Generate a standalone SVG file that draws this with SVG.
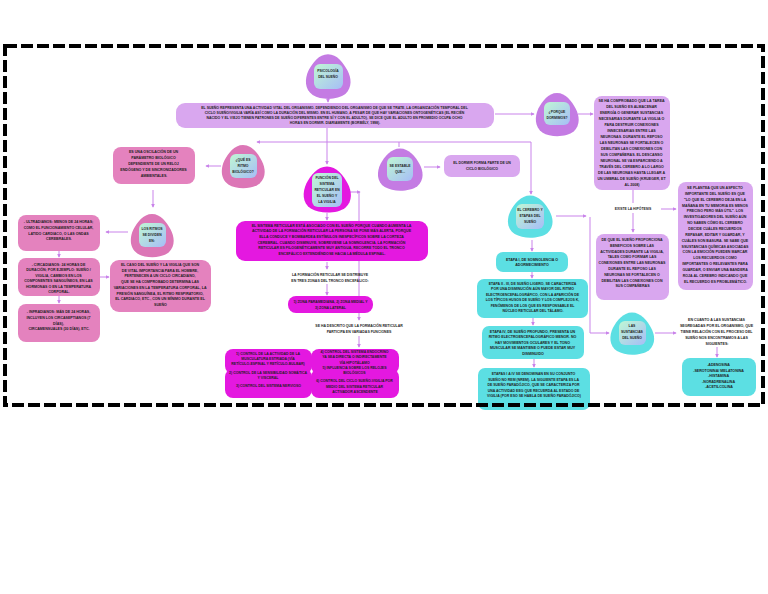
<svg xmlns="http://www.w3.org/2000/svg" width="768" height="594" viewBox="0 0 768 594">
<style>
.t{font-family:"Liberation Sans",Arial,sans-serif;font-weight:bold;fill:#1e1e1e;text-anchor:middle}
.f34{font-size:3.4px}.f35{font-size:3.5px}.f36{font-size:3.6px}
.c{fill:none;stroke:#c983ea;stroke-width:1}
.pb{fill:#c47be3}.pk{fill:#dc76b6}.mg{fill:#e418e0}.tl{fill:#5cdfe3}
.bx-p{fill:#d9a7ef}.bx-k{fill:#e482be}.bx-m{fill:#e418e0}.bx-t{fill:#5cdfe3}
</style>
<defs>
<linearGradient id="g" x1="0" y1="0" x2="1" y2="1">
<stop offset="0" stop-color="#bff7d4"/><stop offset="1" stop-color="#a6bdf6"/>
</linearGradient>
<marker id="a" viewBox="0 0 6 6" refX="5" refY="3" markerWidth="4" markerHeight="4" orient="auto"><path d="M0,0 L6,3 L0,6 Z" fill="#c983ea"/></marker>
<path id="blob" d="M0,-24 C9,-24 15,-15 19,-7 C23,1 24,11 17,18 C10,24 -6,25 -15,19 C-23,13 -23,2 -19,-7 C-15,-15 -9,-24 0,-24 Z"/>
</defs>
<rect width="768" height="594" fill="#ffffff"/>

<g id="connectors">
<path class="c" d="M328,99 V102" marker-end="url(#a)"/>
<path class="c" d="M327,128 V142"/>
<path class="c" d="M327,142 H257" marker-end="url(#a)"/>
<path class="c" d="M327,142 H531 V194" marker-end="url(#a)"/>
<path class="c" d="M327,142 V164" marker-end="url(#a)"/>
<path class="c" d="M399,142 V147"/>
<path class="c" d="M495,114 H534" marker-end="url(#a)"/>
<path class="c" d="M578,114 H593" marker-end="url(#a)"/>
<path class="c" d="M633,190 V203"/>
<path class="c" d="M661,209 H676" marker-end="url(#a)"/>
<path class="c" d="M633,213 V232" marker-end="url(#a)"/>
<path class="c" d="M221,166 H206" marker-end="url(#a)"/>
<path class="c" d="M153,190 V207" marker-end="url(#a)"/>
<path class="c" d="M128,232 H106" marker-end="url(#a)"/>
<path class="c" d="M59,251 V257" marker-end="url(#a)"/>
<path class="c" d="M59,296 V303" marker-end="url(#a)"/>
<path class="c" d="M100,277 H109" marker-end="url(#a)"/>
<path class="c" d="M327,213 V220" marker-end="url(#a)"/>
<path class="c" d="M350,192 H360" marker-end="url(#a)"/>
<path class="c" d="M359,192 V320" marker-end="url(#a)"/>
<path class="c" d="M327,262 V269" marker-end="url(#a)"/>
<path class="c" d="M327,284 V295" marker-end="url(#a)"/>
<path class="c" d="M359,336 V347" marker-end="url(#a)"/>
<path class="c" d="M556,216 H586" marker-end="url(#a)"/>
<path class="c" d="M590,217 V333 H609" marker-end="url(#a)"/>
<path class="c" d="M532,240 V251" marker-end="url(#a)"/>
<path class="c" d="M532,272 V278" marker-end="url(#a)"/>
<path class="c" d="M533,318 V325" marker-end="url(#a)"/>
<path class="c" d="M534,359 V367" marker-end="url(#a)"/>
<path class="c" d="M655,333 H676" marker-end="url(#a)"/>
<path class="c" d="M717,347 V357" marker-end="url(#a)"/>
<path class="c" d="M424,167 H440" marker-end="url(#a)"/>
</g>

<g id="psicologia">
<use href="#blob" class="pb" transform="translate(328,77) scale(1.02,0.95)"/>
<rect x="314" y="64" width="29" height="25" rx="6" fill="url(#g)"/>
<text class="t f34" x="328" y="72"><tspan x="328">PSICOLOGÍA</tspan><tspan x="328" dy="6">DEL SUEÑO</tspan></text>
</g>

<g id="intro">
<rect x="176" y="103" width="318" height="25" rx="9" class="bx-p"/>
<text class="t f35" x="335" y="109">
<tspan x="335">EL SUEÑO REPRESENTA UNA ACTIVIDAD VITAL DEL ORGANISMO. DEPENDIENDO DEL ORGANISMO DE QUE SE TRATE, LA ORGANIZACIÓN TEMPORAL DEL</tspan>
<tspan x="335" dy="5">CICLO SUEÑO/VIGILIA VARÍA ASÍ COMO LA DURACIÓN DEL MISMO. EN EL HUMANO, A PESAR DE QUE HAY VARIACIONES ONTOGENÉTICAS (EL RECIÉN</tspan>
<tspan x="335" dy="5">NACIDO Y EL VIEJO TIENEN PATRONES DE SUEÑO DIFERENTES ENTRE SÍ Y CON EL ADULTO), SE DICE QUE EL ADULTO EN PROMEDIO OCUPA OCHO</tspan>
<tspan x="335" dy="5">HORAS EN DORMIR. DIARIAMENTE (BORBÉLY, 1998).</tspan>
</text>
</g>

<g id="porque">
<use href="#blob" class="pb" transform="translate(557,115) scale(0.98,0.92)"/>
<rect x="544" y="102" width="26" height="23" rx="6" fill="url(#g)"/>
<text class="t f34" x="557" y="113"><tspan x="557">¿PORQUE</tspan><tspan x="557" dy="6">DORMIMOS?</tspan></text>
</g>

<g id="tarea">
<rect x="594" y="96" width="76" height="94" rx="8" class="bx-p"/>
<text class="t f36" x="632" y="102">
<tspan x="632">SE HA COMPROBADO QUE LA TAREA</tspan>
<tspan x="632" dy="6">DEL SUEÑO ES ALMACENAR</tspan>
<tspan x="632" dy="6">ENERGÍA O GENERAR SUSTANCIAS</tspan>
<tspan x="632" dy="6">NECESARIAS DURANTE LA VIGILIA O</tspan>
<tspan x="632" dy="6">PARA DESTRUIR CONEXIONES</tspan>
<tspan x="632" dy="6">INNECESARIAS ENTRE LAS</tspan>
<tspan x="632" dy="6">NEURONAS. DURANTE EL REPOSO</tspan>
<tspan x="632" dy="6">LAS NEURONAS SE FORTALECEN O</tspan>
<tspan x="632" dy="6">DEBILITAN LAS CONEXIONES CON</tspan>
<tspan x="632" dy="6">SUS COMPAÑERAS. EL DESCANSO</tspan>
<tspan x="632" dy="6">NEURONAL SE VA ESPARCIENDO A</tspan>
<tspan x="632" dy="6">TRAVÉS DEL CEREBRO A LO LARGO</tspan>
<tspan x="632" dy="6">DE LAS NEURONAS HASTA LLEGAR A</tspan>
<tspan x="632" dy="6">UN UMBRAL DE SUEÑO (KRUEGER, ET</tspan>
<tspan x="632" dy="6">AL 2008)</tspan>
</text>
</g>

<g id="hipotesis">
<text class="t f34" x="633" y="210">EXISTE LA HIPÓTESIS</text>
</g>

<g id="plantea">
<rect x="678" y="182" width="75" height="108" rx="8" class="bx-p"/>
<text class="t f36" x="715.5" y="189">
<tspan x="715.5">SE PLANTEA QUE UN ASPECTO</tspan>
<tspan x="715.5" dy="5.85">IMPORTANTE DEL SUEÑO ES QUE</tspan>
<tspan x="715.5" dy="5.85">"LO QUE EL CEREBRO DEJA EN LA</tspan>
<tspan x="715.5" dy="5.85">MAÑANA EN TU MEMORIA ES MENOS</tspan>
<tspan x="715.5" dy="5.85">PRECISO PERO MÁS ÚTIL". LOS</tspan>
<tspan x="715.5" dy="5.85">INVESTIGADORES DEL SUEÑO AÚN</tspan>
<tspan x="715.5" dy="5.85">NO SABEN CÓMO EL CEREBRO</tspan>
<tspan x="715.5" dy="5.85">DECIDE CUÁLES RECUERDOS</tspan>
<tspan x="715.5" dy="5.85">REPASAR, EDITAR Y GUARDAR, Y</tspan>
<tspan x="715.5" dy="5.85">CUÁLES SON BASURA. SE SABE QUE</tspan>
<tspan x="715.5" dy="5.85">SSUSTANCIAS QUÍMICAS ASOCIADAS</tspan>
<tspan x="715.5" dy="5.85">CON LA EMOCIÓN PUEDEN MARCAR</tspan>
<tspan x="715.5" dy="5.85">LOS RECUERDOS COMO</tspan>
<tspan x="715.5" dy="5.85">IMPORTANTES O RELEVANTES PARA</tspan>
<tspan x="715.5" dy="5.85">GUARDAR, O ENVIAR UNA BANDERA</tspan>
<tspan x="715.5" dy="5.85">ROJA AL CEREBRO INDICANDO QUE</tspan>
<tspan x="715.5" dy="5.85">EL RECUERDO ES PROBLEMÁTICO.</tspan>
</text>
</g>

<g id="dequesueno">
<rect x="596" y="234" width="73" height="66" rx="8" class="bx-p"/>
<text class="t f36" x="632.5" y="241">
<tspan x="632.5">DE QUE EL SUEÑO PROPORCIONA</tspan>
<tspan x="632.5" dy="5.8">BENEFICIOS SOBRE LAS</tspan>
<tspan x="632.5" dy="5.8">ACTIVIDADES DURANTE LA VIGILIA,</tspan>
<tspan x="632.5" dy="5.8">TALES COMO FORMAR LAS</tspan>
<tspan x="632.5" dy="5.8">CONEXIONES ENTRE LAS NEURONAS</tspan>
<tspan x="632.5" dy="5.8">DURANTE EL REPOSO LAS</tspan>
<tspan x="632.5" dy="5.8">NEURONAS SE FORTALECEN O</tspan>
<tspan x="632.5" dy="5.8">DEBILITAN LAS CONEXIONES CON</tspan>
<tspan x="632.5" dy="5.8">SUS COMPAÑERAS</tspan>
</text>
</g>

<g id="sustancias">
<use href="#blob" class="tl" transform="translate(632,334) scale(1,0.9)"/>
<rect x="619" y="321" width="27" height="24" rx="6" fill="url(#g)"/>
<text class="t f34" x="632" y="327"><tspan x="632">LAS</tspan><tspan x="632" dy="6">SUSTANCIAS</tspan><tspan x="632" dy="6">DEL SUEÑO</tspan></text>
</g>

<g id="encuanto">
<text class="t f36" x="717" y="321">
<tspan x="717">EN CUANTO A LAS SUSTANCIAS</tspan>
<tspan x="717" dy="6">SEGREGADAS POR EL ORGANISMO, QUE</tspan>
<tspan x="717" dy="6">TIENE RELACIÓN CON EL PROCESO DEL</tspan>
<tspan x="717" dy="6">SUEÑO NOS ENCONTRAMOS A LAS</tspan>
<tspan x="717" dy="6">SIGUIENTES:</tspan>
</text>
</g>

<g id="lista">
<rect x="682" y="358" width="74" height="38" rx="8" class="bx-t"/>
<text class="t f36" x="719" y="366">
<tspan x="719">-ADENOSINA</tspan>
<tspan x="719" dy="5.5">-SEROTONINA/ MELATONINA</tspan>
<tspan x="719" dy="5.5">-HISTAMINA</tspan>
<tspan x="719" dy="5.5">-NORADRENALINA</tspan>
<tspan x="719" dy="5.5">-ACETILCOLINA</tspan>
</text>
</g>

<g id="cerebro">
<use href="#blob" class="tl" transform="translate(530,217) scale(1.02,0.9)"/>
<rect x="516" y="204" width="28" height="25" rx="6" fill="url(#g)"/>
<text class="t f34" x="530" y="211"><tspan x="530">EL CEREBRO Y</tspan><tspan x="530" dy="6">ETAPAS DEL</tspan><tspan x="530" dy="6">SUEÑO</tspan></text>
</g>

<g id="etapa1">
<rect x="496" y="252" width="72" height="20" rx="7" class="bx-t"/>
<text class="t f36" x="532" y="260.5"><tspan x="532">ETAPA I, DE SOMNOLENCIA O</tspan><tspan x="532" dy="5.5">ADORMECIMIENTO</tspan></text>
</g>

<g id="etapa2">
<rect x="477" y="279" width="111" height="39" rx="7" class="bx-t"/>
<text class="t f35" x="533" y="285">
<tspan x="533">ETAPA II - III, DE SUEÑO LIGERO, SE CARACTERIZA</tspan>
<tspan x="533" dy="5.4">POR UNA DISMINUCIÓN AÚN MAYOR DEL RITMO</tspan>
<tspan x="533" dy="5.4">ELECTROENCEFALOGRÁFICO, CON LA APARICIÓN DE</tspan>
<tspan x="533" dy="5.4">LOS TÍPICOS HUSOS DE SUEÑO Y LOS COMPLEJOS K,</tspan>
<tspan x="533" dy="5.4">FENÓMENOS DE LOS QUE ES RESPONSABLE EL</tspan>
<tspan x="533" dy="5.4">NÚCLEO RETICULAR DEL TÁLAMO.</tspan>
</text>
</g>

<g id="etapa4">
<rect x="482" y="326" width="102" height="33" rx="7" class="bx-t"/>
<text class="t f36" x="533" y="332.5">
<tspan x="533">ETAPA IV, DE SUEÑO PROFUNDO, PRESENTA UN</tspan>
<tspan x="533" dy="5.6">RITMO ELECTROENCEFALOGRÁFICO MENOR. NO</tspan>
<tspan x="533" dy="5.6">HAY MOVIMIENTOS OCULARES Y EL TONO</tspan>
<tspan x="533" dy="5.6">MUSCULAR SE MANTIENE O PUEDE ESTAR MUY</tspan>
<tspan x="533" dy="5.6">DISMINUIDO</tspan>
</text>
</g>

<g id="etapas-rem">
<rect x="478" y="368" width="112" height="42" rx="7" class="bx-t"/>
<text class="t f35" x="534" y="375">
<tspan x="534">ETAPAS I A IV SE DENOMINAN EN SU CONJUNTO</tspan>
<tspan x="534" dy="5.5">SUEÑO NO REM (NREM). LA SIGUIENTE ETAPA ES LA</tspan>
<tspan x="534" dy="5.5">DE SUEÑO PARADÓJICO, QUE SE CARACTERIZA POR</tspan>
<tspan x="534" dy="5.5">UNA ACTIVIDAD EEG QUE RECUERDA AL ESTADO DE</tspan>
<tspan x="534" dy="5.5">VIGILIA (POR ESO SE HABLA DE SUEÑO PARADÓJICO)</tspan>
</text>
</g>

<g id="seestable">
<use href="#blob" class="pb" transform="translate(400,170) scale(1.02,0.9)"/>
<rect x="387" y="157" width="26" height="24" rx="6" fill="url(#g)"/>
<text class="t f34" x="400" y="167"><tspan x="400">SE ESTABLE</tspan><tspan x="400" dy="6">QUE...</tspan></text>
</g>

<g id="dormir">
<rect x="444" y="155" width="76" height="22" rx="7" class="bx-p"/>
<text class="t f35" x="482" y="164"><tspan x="482">EL DORMIR FORMA PARTE DE UN</tspan><tspan x="482" dy="6">CICLO BIOLÓGICO</tspan></text>
</g>

<g id="funcion">
<use href="#blob" class="mg" transform="translate(327,190) scale(1.08,0.98)"/>
<rect x="312" y="173" width="30" height="34" rx="6" fill="url(#g)"/>
<text class="t f34" x="327" y="179">
<tspan x="327">FUNCIÓN DEL</tspan><tspan x="327" dy="6">SISTEMA</tspan><tspan x="327" dy="6">RETICULAR EN</tspan><tspan x="327" dy="6">EL SUEÑO Y</tspan><tspan x="327" dy="6">LA VIGILIA</tspan>
</text>
</g>

<g id="reticular">
<rect x="236" y="221" width="192" height="40" rx="9" class="bx-m"/>
<text class="t f36" x="332" y="226.5">
<tspan x="332">EL SISTEMA RETICULAR ESTÁ ASOCIADO CON EL SUEÑO PORQUE CUANDO AUMENTA LA</tspan>
<tspan x="332" dy="5.7">ACTIVIDAD DE LA FORMACIÓN RETICULAR LA PERSONA SE PONE MÁS ALERTA, PORQUE</tspan>
<tspan x="332" dy="5.7">ELLA CONDUCE Y BOMBARDEA ESTÍMULOS INESPECÍFICOS SOBRE LA CORTEZA</tspan>
<tspan x="332" dy="5.7">CEREBRAL. CUANDO DISMINUYE, SOBREVIENE LA SOMNOLENCIA. LA FORMACIÓN</tspan>
<tspan x="332" dy="5.7">RETICULAR ES FILOGENÉTICAMENTE MUY ANTIGUA, RECORRE TODO EL TRONCO</tspan>
<tspan x="332" dy="5.7">ENCEFÁLICO EXTENDIÉNDOSE HACIA LA MÉDULA ESPINAL.</tspan>
</text>
</g>

<g id="distribuye">
<text class="t f35" x="330" y="276"><tspan x="330">LA FORMACIÓN RETICULAR SE DISTRIBUYE</tspan><tspan x="330" dy="6">EN TRES ZONAS DEL TRONCO ENCEFÁLICO:</tspan></text>
</g>

<g id="zonas">
<rect x="288" y="296" width="85" height="17" rx="8" class="bx-m"/>
<text class="t f35" x="330.5" y="303"><tspan x="330.5">1) ZONA PARAMEDIANA, 2) ZONA MEDIAL Y</tspan><tspan x="330.5" dy="6">3) ZONA LATERAL</tspan></text>
</g>

<g id="descrito">
<text class="t f35" x="359" y="327"><tspan x="359">SE HA DESCRITO QUE LA FORMACIÓN RETICULAR</tspan><tspan x="359" dy="6">PARTICIPA EN VARIADAS FUNCIONES</tspan></text>
</g>

<g id="funciones-1">
<rect x="225" y="349" width="87" height="25" rx="8" class="bx-m"/>
<rect x="225" y="369" width="87" height="29" rx="8" class="bx-m"/>
<text class="t f35" x="268.5" y="355">
<tspan x="268.5">1) CONTROL DE LA ACTIVIDAD DE LA</tspan>
<tspan x="268.5" dy="5">MUSCULATURA ESTRIADA (VÍA</tspan>
<tspan x="268.5" dy="5">RETÍCULO-ESPINAL Y RETÍCULO-BULBAR)</tspan>
<tspan x="268.5" dy="9">2) CONTROL DE LA SENSIBILIDAD SOMÁTICA</tspan>
<tspan x="268.5" dy="5">Y VISCERAL</tspan>
<tspan x="268.5" dy="8">3) CONTROL DEL SISTEMA NERVIOSO</tspan>
</text>
</g>

<g id="funciones-2">
<rect x="311" y="349" width="88" height="25" rx="8" class="bx-m"/>
<rect x="311" y="369" width="88" height="29" rx="8" class="bx-m"/>
<text class="t f35" x="355" y="353">
<tspan x="355">4) CONTROL DEL SISTEMA ENDOCRINO</tspan>
<tspan x="355" dy="5.3">YA SEA DIRECTA O INDIRECTAMENTE</tspan>
<tspan x="355" dy="5.3">VÍA HIPOTÁLAMO</tspan>
<tspan x="355" dy="5.3">5) INFLUENCIA SOBRE LOS RELOJES</tspan>
<tspan x="355" dy="5.3">BIOLÓGICOS</tspan>
<tspan x="355" dy="8">6) CONTROL DEL CICLO SUEÑO-VIGILIA POR</tspan>
<tspan x="355" dy="5.3">MEDIO DEL SISTEMA RETICULAR</tspan>
<tspan x="355" dy="5.3">ACTIVADOR ASCENDENTE</tspan>
</text>
</g>

<g id="queesritmo">
<use href="#blob" class="pk" transform="translate(243,167) scale(0.98,0.92)"/>
<rect x="230" y="154" width="27" height="24" rx="6" fill="url(#g)"/>
<text class="t f34" x="243" y="161"><tspan x="243">¿QUÉ ES</tspan><tspan x="243" dy="6">RITMO</tspan><tspan x="243" dy="6">BIOLÓGICO?</tspan></text>
</g>

<g id="oscilacion">
<rect x="113" y="147" width="82" height="37" rx="8" class="bx-k"/>
<text class="t f36" x="154" y="153">
<tspan x="154">ES UNA OSCILACIÓN DE UN</tspan>
<tspan x="154" dy="6">PARÁMETRO BIOLÓGICO</tspan>
<tspan x="154" dy="6">DEPENDIENTE DE UN RELOJ</tspan>
<tspan x="154" dy="6">ENDÓGENO Y DE SINCRONIZADORES</tspan>
<tspan x="154" dy="6">AMBIENTALES.</tspan>
</text>
</g>

<g id="ritmos">
<use href="#blob" class="pk" transform="translate(152,236) scale(0.98,0.92)"/>
<rect x="139" y="223" width="27" height="24" rx="6" fill="url(#g)"/>
<text class="t f34" x="152" y="230"><tspan x="152">LOS RITMOS</tspan><tspan x="152" dy="6">SE DIVIDEN</tspan><tspan x="152" dy="6">EN:</tspan></text>
</g>

<g id="ultradianos">
<rect x="18" y="215" width="82" height="36" rx="8" class="bx-k"/>
<text class="t f36" x="59" y="223">
<tspan x="59">- ULTRADIANOS: MENOS DE 24 HORAS;</tspan>
<tspan x="59" dy="5.8">COMO EL FUNCIONAMIENTO CELULAR,</tspan>
<tspan x="59" dy="5.8">LATIDO CARDIACO, O LAS ONDAS</tspan>
<tspan x="59" dy="5.8">CEREBRALES.</tspan>
</text>
</g>

<g id="circadianos">
<rect x="18" y="258" width="82" height="38" rx="8" class="bx-k"/>
<text class="t f36" x="59" y="266">
<tspan x="59">- CIRCADIANOS: 24 HORAS DE</tspan>
<tspan x="59" dy="5.4">DURACIÓN; POR EJEMPLO: SUEÑO /</tspan>
<tspan x="59" dy="5.4">VIGILIA, CAMBIOS EN LOS</tspan>
<tspan x="59" dy="5.4">COMPONENTES SANGUÍNEOS, EN LAS</tspan>
<tspan x="59" dy="5.4">HORMONAS O EN LA TEMPERATURA</tspan>
<tspan x="59" dy="5.4">CORPORAL.</tspan>
</text>
</g>

<g id="infradianos">
<rect x="18" y="304" width="82" height="38" rx="8" class="bx-k"/>
<text class="t f36" x="59" y="313">
<tspan x="59">- INFRADIANOS: MÁS DE 24 HORAS,</tspan>
<tspan x="59" dy="5.8">INCLUYEN LOS CIRCASEPTIANOS (7</tspan>
<tspan x="59" dy="5.8">DÍAS),</tspan>
<tspan x="59" dy="5.8">CIRCAMENSUALES (30 DÍAS), ETC.</tspan>
</text>
</g>

<g id="elcaso">
<rect x="110" y="260" width="101" height="52" rx="9" class="bx-k"/>
<text class="t f36" x="160.5" y="266">
<tspan x="160.5">EL CASO DEL SUEÑO Y LA VIGILIA QUE SON</tspan>
<tspan x="160.5" dy="5.7">DE VITAL IMPORTANCIA PARA EL HOMBRE,</tspan>
<tspan x="160.5" dy="5.7">PERTENECEN A UN CICLO CIRCADIANO,</tspan>
<tspan x="160.5" dy="5.7">QUE SE HA COMPROBADO DETERMINA LAS</tspan>
<tspan x="160.5" dy="5.7">VARIACIONES EN LA TEMPERATURA CORPORAL, LA</tspan>
<tspan x="160.5" dy="5.7">PRESIÓN SANGUÍNEA, EL RITMO RESPIRATORIO,</tspan>
<tspan x="160.5" dy="5.7">EL CARDIACO, ETC., CON UN MÍNIMO DURANTE EL</tspan>
<tspan x="160.5" dy="5.7">SUEÑO</tspan>
</text>
</g>

<rect x="5" y="46" width="758" height="359" fill="none" stroke="#000" stroke-width="4" stroke-dasharray="12 4"/>
</svg>
